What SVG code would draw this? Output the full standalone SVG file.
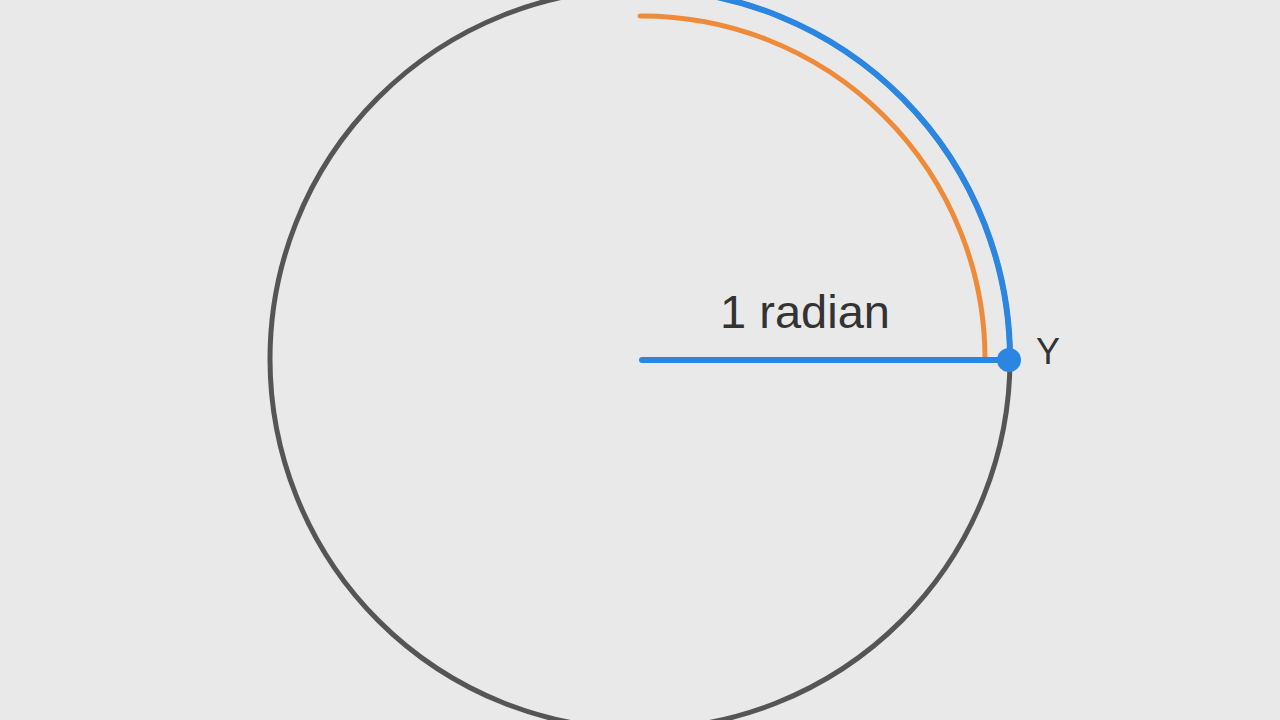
<svg xmlns="http://www.w3.org/2000/svg" width="1280" height="720" viewBox="0 0 1280 720">
<style>
.lbl{font-family:"Liberation Sans",Arial,sans-serif;fill:#333}
</style>
<rect width="1280" height="720" fill="#e9e9ea"/>
<g id="circle"><circle cx="640" cy="359" r="370" fill="none" stroke="#555" stroke-width="5"/></g>
<g id="connectors" fill="none" stroke-linecap="round">
<path d="M640 16 A343 343 0 0 1 985 359" stroke="#ef8a38" stroke-width="5"/>
<path d="M645 -11 A370 370 0 0 1 1010 359" stroke="#2a86e0" stroke-width="6"/>
<line x1="642" y1="360" x2="1005" y2="360" stroke="#2a86e0" stroke-width="6"/>
</g>
<g id="point"><circle cx="1009" cy="360" r="12" fill="#2a86e0"/></g>
<g id="labels">
<text class="lbl" x="805" y="328" font-size="47" text-anchor="middle">1 radian</text>
<text class="lbl" x="1048" y="364" font-size="36" text-anchor="middle" fill="#222">Y</text>
</g>
</svg>
